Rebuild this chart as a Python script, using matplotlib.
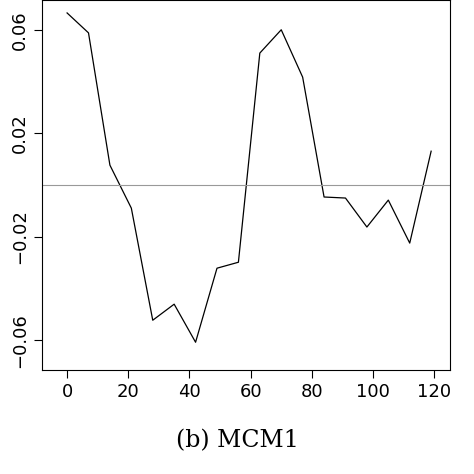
import matplotlib
matplotlib.use("Agg")
import matplotlib.pyplot as plt

plt.rcParams["mathtext.fontset"] = "cm"

lags = [0, 7, 14, 21, 28, 35, 42, 49, 56, 63, 70, 77, 84, 91, 98, 105, 112, 119]
acf = [0.0665, 0.0588, 0.0077, -0.0089, -0.0522, -0.046, -0.0607, -0.0321, -0.0298,
       0.051, 0.060, 0.0417, -0.0046, -0.005, -0.0162, -0.0058, -0.0224, 0.0131]
xticks = [0, 20, 40, 60, 80, 100, 120]
yticks = [-0.06, -0.02, 0.02, 0.06]

fig = plt.figure(figsize=(4.74, 4.74), dpi=100)
ax = fig.add_axes([0.0886, 0.219, 0.861, 0.781])
ax.plot(lags, acf, color="black", lw=0.9)
ax.axhline(0, color="#999999", lw=0.8)
ax.set_xlim(-8.2, 125.2)
ax.set_ylim(-0.0715, 0.0715)
ax.set_xticks(xticks)
ax.set_yticks(yticks)
ax.set_yticklabels([f"{v:.2f}".replace("-", "−") for v in yticks],
                   rotation=90, va="center")
ax.tick_params(labelsize=13, length=6)
for s in ax.spines.values():
    s.set_linewidth(0.8)
fig.text(0.5, 0.07, "(b) MCM1", ha="center", va="center", fontsize=17,
         family="serif")
fig.savefig("out.png", dpi=100)
